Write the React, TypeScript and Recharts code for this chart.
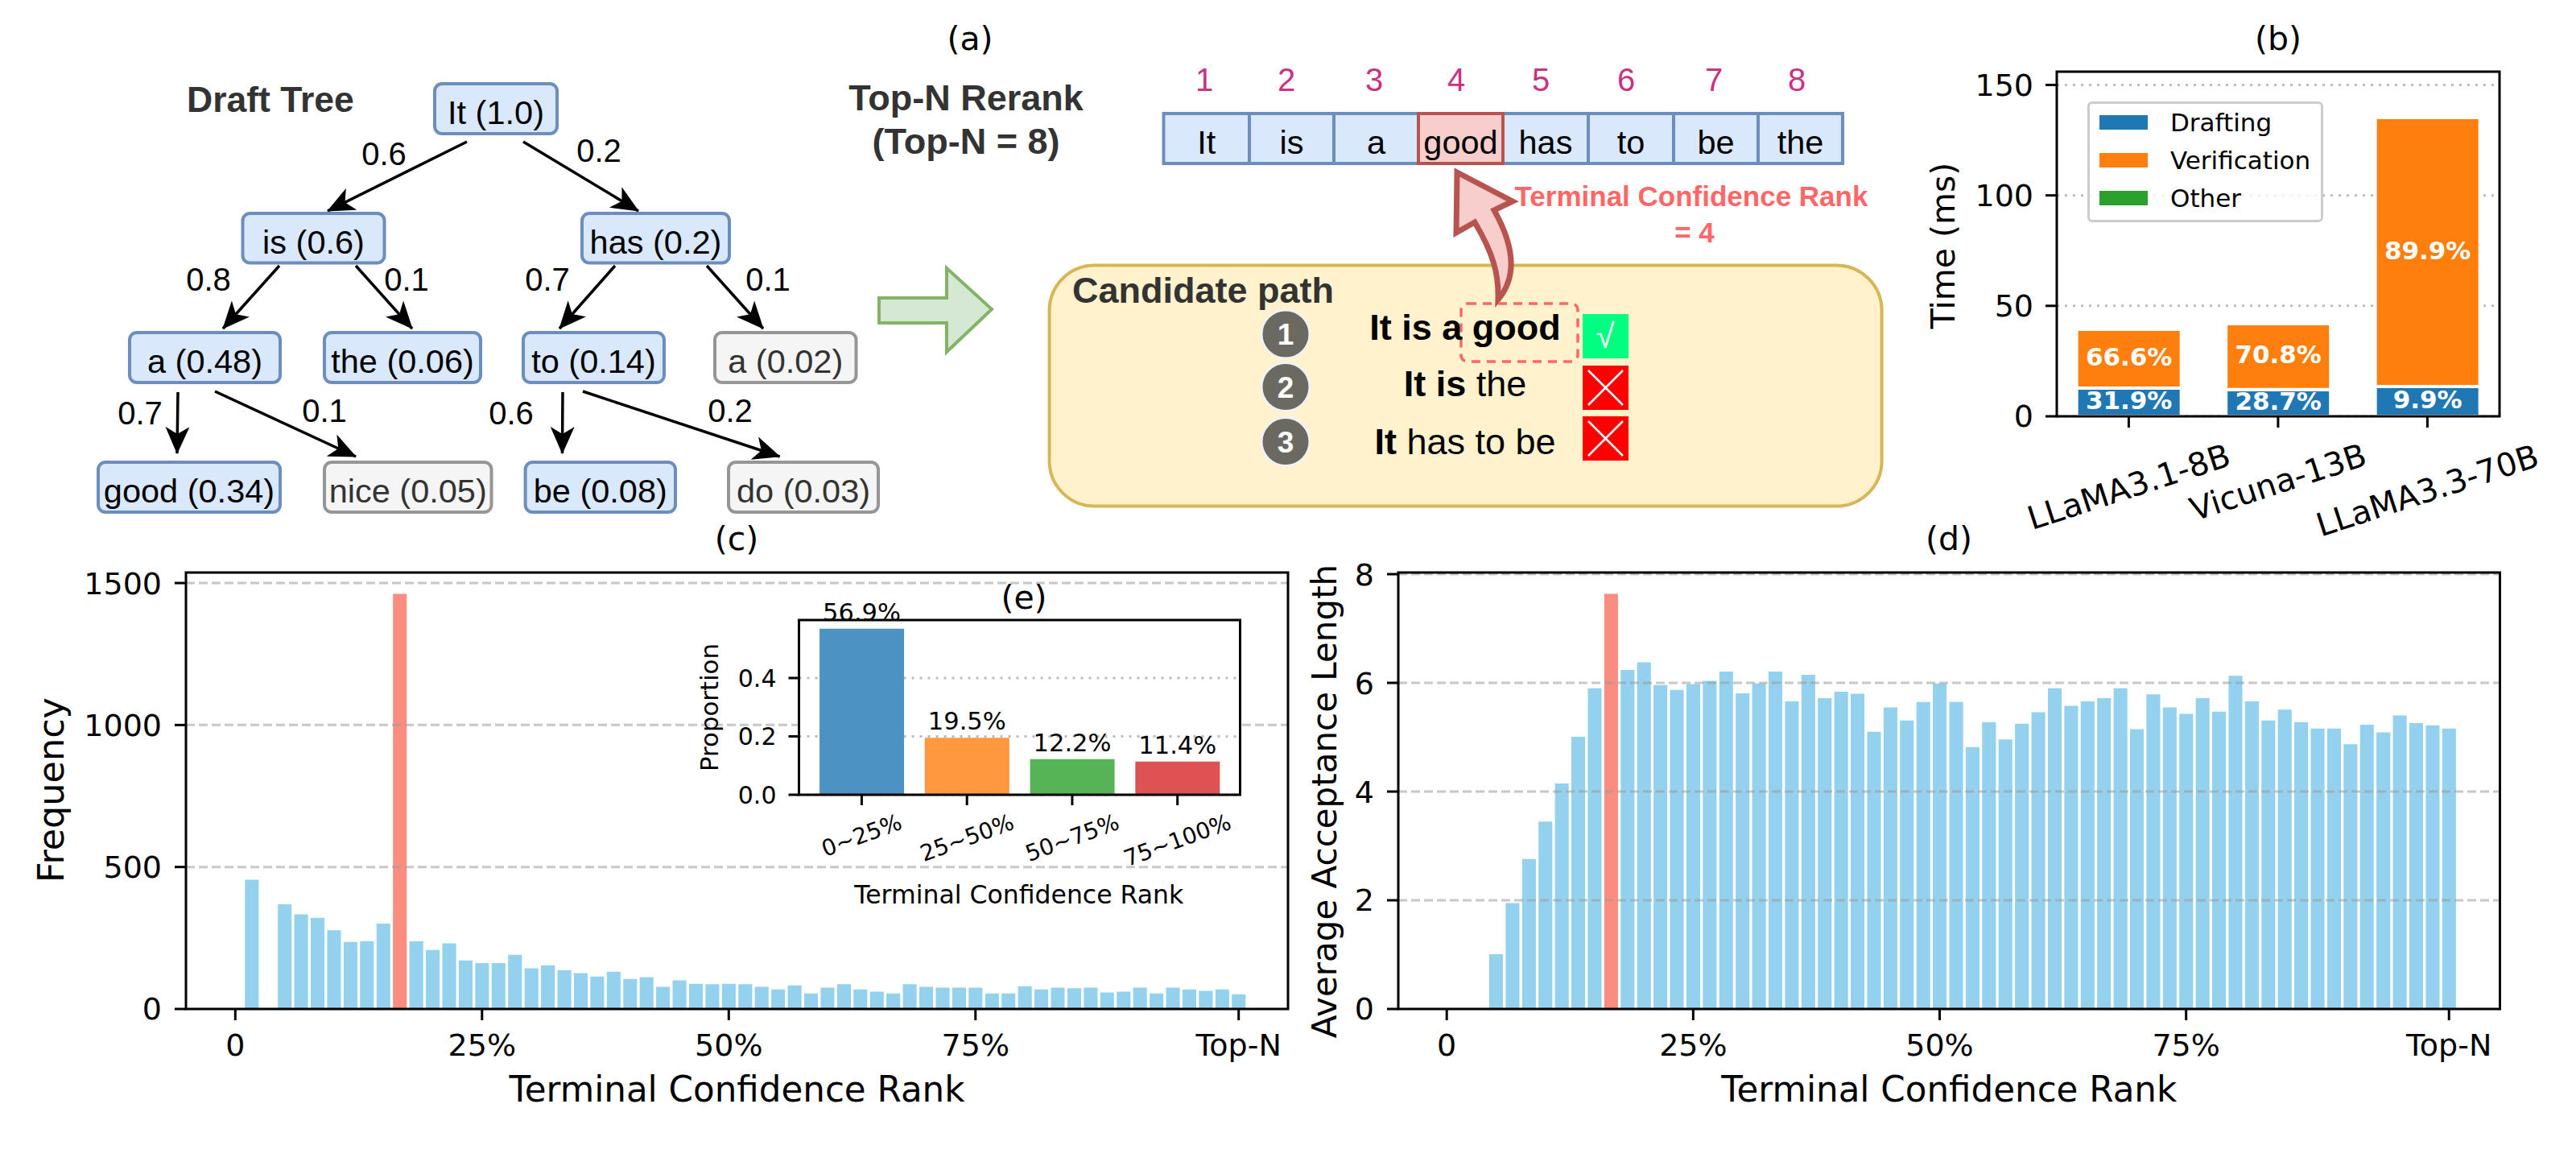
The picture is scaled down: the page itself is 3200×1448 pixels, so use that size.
import React from 'react';
import {
  BarChart, Bar, XAxis, YAxis, CartesianGrid, ReferenceArea, ReferenceLine, Cell, LabelList, Legend,
} from 'recharts';

const MPL = 'DejaVu Sans';
const DIA = '"Liberation Sans", Arial, sans-serif';

// ---------- data ----------
const ranks = [0,1,2,3,4,5,6,7,8,9,10,11,12,13,14,15,16,17,18,19,20,21,22,23,24,25,26,27,28,29,30,31,32,33,34,35,36,37,38,39,40,41,42,43,44,45,46,47,48,49,50,51,52,53,54,55,56,57,58,59,60,61];
const frequency = [null,457,null,371,335,323,279,238,241,303,1464,241,210,233,173,164,164,193,145,156,139,128,116,133,108,114,80,103,91,89,91,89,80,71,85,57,77,89,71,63,57,89,80,77,77,77,57,57,82,71,77,75,77,60,63,77,57,77,71,66,71,54];
const acceptance = [null,null,null,1.02,1.96,2.77,3.46,4.16,5.02,5.91,7.65,6.25,6.39,5.97,5.88,5.99,6.05,6.22,5.82,6.0,6.22,5.67,6.16,5.73,5.85,5.81,5.11,5.56,5.32,5.66,6.0,5.66,4.83,5.29,4.97,5.26,5.47,5.91,5.59,5.67,5.73,5.91,5.16,5.80,5.56,5.44,5.73,5.48,6.14,5.67,5.32,5.52,5.29,5.17,5.17,4.88,5.24,5.10,5.41,5.27,5.23,5.17];
const highlightRank = 10;
const rankTickValues = [0, 15, 30, 45, 61];
const rankTickLabels = ['0', '25%', '50%', '75%', 'Top-N'];
const freqTicks = [0, 500, 1000, 1500];
const acceptTicks = [0, 2, 4, 6, 8];

const models = ['LLaMA3.1-8B', 'Vicuna-13B', 'LLaMA3.3-70B'];
const modelPositions = [0, 1, 2];
const drafting = [12.76, 12.14, 13.5];
const verification = [26.74, 29.76, 121.7];
const other = [0.6, 0.2, 0.27];
const draftingPct = ['31.9%', '28.7%', '9.9%'];
const verificationPct = ['66.6%', '70.8%', '89.9%'];
const timeTicks = [0, 50, 100, 150];
const legendNames = ['Drafting', 'Verification', 'Other'];
const legendColors = ['#1f77b4', '#ff7f0e', '#2ca02c'];

const rankBins = ['0~25%', '25~50%', '50~75%', '75~100%'];
const binPositions = [0, 1, 2, 3];
const binShare = [0.569, 0.195, 0.122, 0.114];
const binShareLabels = ['56.9%', '19.5%', '12.2%', '11.4%'];
const binColors = ['#4c92c3', '#ff983e', '#56b356', '#de5253'];
const shareTicks = [0, 0.2, 0.4];

const treeNodeLabels = ['It (1.0)', 'is (0.6)', 'has (0.2)', 'a (0.48)', 'the (0.06)', 'to (0.14)', 'a (0.02)', 'good (0.34)', 'nice (0.05)', 'be (0.08)', 'do (0.03)'];
const treeEdgeLabels = ['0.6', '0.2', '0.8', '0.1', '0.7', '0.1', '0.7', '0.1', '0.6', '0.2'];
const rerankWords = ['It', 'is', 'a', 'good', 'has', 'to', 'be', 'the'];
const rerankNumbers = ['1', '2', '3', '4', '5', '6', '7', '8'];

// ---------- layout ----------
const treeNodeBoxes: number[][] = [
  [540,692,104,166,0],[301.5,477.5,265,326.5,0],[723,906,265,326.5,0],
  [161,348,413,475,0],[403,597,413,475,0],[650,825,413,475,0],[888,1063.5,413,475,1],
  [122,348,574,636,0],[403,610.5,574,636,1],[652.6,839,574,636,0],[905,1091,574,636,1],
];
const treeEdgeLabelPos: number[][] = [[477,191],[744,187],[259,347],[505,347],[680,347],[954,347],[174,513],[403,510],[635,513],[907,510]];
const treeArrows: number[][] = [
  [580,176,407,262],[650,176,793,262],[347,330,277,408],[442,330,512,408],[764,330,695,408],
  [878,330,948,408],[221,487,220,563],[267,486,442,567],[699,487,698.5,563],[724,486,968.6,567],
];
const rerankEdges = [1445.5,1552,1657,1762,1867,1973,2079,2184,2289];
const rerankNumberX = [1496,1598,1707,1809,1914,2020,2129,2232];

const Z_TOP = 1000;
const AXIS_W = 3;
const tickLine = { stroke: '#000', strokeWidth: AXIS_W };
const barSky = '#93d1ee';
const barSalmon = '#fb8d80';

function makeXTick(deltaY: number, labels: string[], values: number[]) {
  return (p: any) => {
    const i = values.indexOf(p.payload.value);
    return (
      <text x={p.x} y={p.y + deltaY} textAnchor="middle" fontFamily={MPL} fontSize={38} fill="#000">
        {labels[i]}
      </text>
    );
  };
}

function makeRotatedTick(labels: string[], values: number[], size: number, baseY: number, halfHeights: number[], angle: number) {
  return (p: any) => {
    const i = values.indexOf(p.payload.value);
    const cy = baseY + halfHeights[i];
    return (
      <text x={p.x} y={cy} textAnchor="middle" dominantBaseline="central" fontFamily={MPL} fontSize={size} fill="#000"
        transform={`rotate(${-angle} ${p.x} ${cy})`}>
        {labels[i]}
      </text>
    );
  };
}

function axisTitleX(text: string, x: number, y: number, size: number) {
  return () => (
    <text x={x} y={y} textAnchor="middle" fontFamily={MPL} fontSize={size} fill="#000">{text}</text>
  );
}
function axisTitleY(text: string, x: number, y: number, size: number) {
  return () => (
    <text x={x} y={y} textAnchor="middle" dominantBaseline="central" fontFamily={MPL} fontSize={size} fill="#000"
      transform={`rotate(-90 ${x} ${y})`}>{text}</text>
  );
}

function RankChart(props: any) {
  const { left, top, width, height, plotLeft, plotRight, plotTop, plotBottom, domainY, values, yTicks, gridTicks, xDomain } = props;
  const data = ranks.map((r, i) => ({ rank: r, value: values[i] }));
  return (
    <div style={{ position: 'absolute', left, top, width, height }}>
      <BarChart width={width} height={height} data={data} barSize={18.6}
        margin={{ top: plotTop - top, left: 0, right: left + width - plotRight, bottom: 0 }}>
        <XAxis dataKey="rank" type="number" scale="linear" domain={xDomain} ticks={rankTickValues} interval={0}
          height={top + height - plotBottom} axisLine={false} tickLine={tickLine} tickSize={14} tickMargin={0}
          tick={makeXTick(44, rankTickLabels, rankTickValues)}
          label={axisTitleX('Terminal Confidence Rank', (plotLeft + plotRight) / 2 - left, 1368 - top, 43.6)} />
        <YAxis type="number" domain={[0, domainY]} ticks={yTicks} interval={0} width={plotLeft - left} axisLine={false}
          tickLine={tickLine} tickSize={14} tickMargin={props.tickMargin}
          tick={{ fontFamily: MPL, fontSize: 38, fill: '#000' }}
          label={axisTitleY(props.yLabel, props.yLabelX - left, props.yLabelY - top, props.yLabelSize)} />
        <Bar dataKey="value" isAnimationActive={false} stroke="#fff" strokeWidth={1.5}>
          {data.map((d) => (
            <Cell key={d.rank} fill={d.rank === highlightRank ? barSalmon : barSky} />
          ))}
        </Bar>
        {gridTicks.map((t: number) => (
          <ReferenceLine key={t} y={t} stroke="#9a9a9a" strokeOpacity={0.55} strokeWidth={3} strokeDasharray="11 5" ifOverflow="visible" zIndex={Z_TOP} />
        ))}
        <ReferenceArea x1={xDomain[0]} x2={xDomain[1]} y1={0} y2={domainY} fill="none" fillOpacity={0} stroke="#000" strokeWidth={AXIS_W} ifOverflow="visible" zIndex={Z_TOP} />
      </BarChart>
    </div>
  );
}

function segmentLabel(labels: string[]) {
  return (p: any) => (
    <text x={p.x + p.width / 2} y={p.y + p.height / 2 - 2.5} textAnchor="middle" dominantBaseline="central"
      fontFamily={MPL} fontWeight={700} fontSize={31} fill="#fff">
      {labels[p.index]}
    </text>
  );
}

function TimeLegend() {
  return (
    <div style={{
      boxSizing: 'border-box', width: 293, height: 150, border: '3px solid #cccccc', borderRadius: 6,
      background: 'rgba(255,255,255,0.8)', position: 'relative',
    }}>
      {legendNames.map((n, i) => (
        <React.Fragment key={n}>
          <div style={{ position: 'absolute', left: 12, top: 14 + i * 47, width: 60, height: 18, background: legendColors[i] }} />
          <div style={{ position: 'absolute', left: 100, top: 3 + i * 47, fontFamily: MPL, fontSize: 31, lineHeight: '40px', color: '#000', whiteSpace: 'nowrap' }}>{n}</div>
        </React.Fragment>
      ))}
    </div>
  );
}

function TimeChart() {
  const left = 2380, top = 70, width = 800, height = 620, pl = 2555, pr = 3105, pt = 89, pb = 517;
  const xd = [-0.482, 2.483];
  const yMax = 156;
  const data = models.map((m, i) => ({ pos: modelPositions[i], draft: drafting[i], verif: verification[i], other: other[i] }));
  return (
    <div style={{ position: 'absolute', left, top, width, height }}>
      <BarChart width={width} height={height} data={data} barSize={130}
        margin={{ top: pt - top, left: 0, right: left + width - pr, bottom: 0 }}>
        <CartesianGrid horizontal vertical={false} syncWithTicks stroke="#bdbdbd" strokeWidth={3} strokeDasharray="3 7" />
        <XAxis dataKey="pos" type="number" scale="linear" domain={xd} ticks={modelPositions} interval={0}
          height={top + height - pb} axisLine={false} tickLine={tickLine} tickSize={14} tickMargin={0}
          tick={makeRotatedTick(models, modelPositions, 40, 548 - top, [56.5, 50.7, 61], 18)} />
        <YAxis type="number" domain={[0, yMax]} ticks={timeTicks} interval={0} width={pl - left} axisLine={false}
          tickLine={tickLine} tickSize={14} tickMargin={15} tick={{ fontFamily: MPL, fontSize: 38, fill: '#000' }}
          label={axisTitleY('Time (ms)', 2414 - left, 305 - top, 41)} />
        <Bar dataKey="draft" name={legendNames[0]} stackId="t" fill={legendColors[0]} stroke="#fff" strokeWidth={4} isAnimationActive={false}>
          <LabelList content={segmentLabel(draftingPct)} />
        </Bar>
        <Bar dataKey="verif" name={legendNames[1]} stackId="t" fill={legendColors[1]} stroke="#fff" strokeWidth={4} isAnimationActive={false}>
          <LabelList content={segmentLabel(verificationPct)} />
        </Bar>
        <Bar dataKey="other" name={legendNames[2]} stackId="t" fill={legendColors[2]} stroke="#fff" strokeWidth={4} isAnimationActive={false} />
        <Legend layout="vertical" align="center" verticalAlign="middle" content={<TimeLegend />}
          wrapperStyle={{ left: 2593 - left, top: 126 - top, width: 293, height: 150 }} />
        <ReferenceArea x1={xd[0]} x2={xd[1]} y1={0} y2={yMax} fill="none" fillOpacity={0} stroke="#000" strokeWidth={AXIS_W} ifOverflow="visible" zIndex={Z_TOP} />
      </BarChart>
    </div>
  );
}

function ShareChart() {
  const left = 860, top = 740, width = 720, height = 400, pl = 992.5, pr = 1540.5, pt = 770, pb = 987;
  const xd = [-0.596, 3.595];
  const yMax = 0.5986;
  const data = rankBins.map((b, i) => ({ pos: binPositions[i], share: binShare[i] }));
  const shareLabel = (p: any) => (
    <text x={p.x + p.width / 2} y={p.y - 10} textAnchor="middle" fontFamily={MPL} fontSize={30.5} fill="#000">
      {binShareLabels[p.index]}
    </text>
  );
  return (
    <div style={{ position: 'absolute', left, top, width, height }}>
      <BarChart width={width} height={height} data={data} barSize={105}
        margin={{ top: pt - top, left: 0, right: left + width - pr, bottom: 0 }}>
        <CartesianGrid horizontal vertical={false} syncWithTicks fill="#fff" fillOpacity={1} stroke="#bdbdbd" strokeWidth={3} strokeDasharray="3 7" />
        <XAxis dataKey="pos" type="number" scale="linear" domain={xd} ticks={binPositions} interval={0}
          height={top + height - pb} axisLine={false} tickLine={tickLine} tickSize={13} tickMargin={0}
          tick={makeRotatedTick(rankBins, binPositions, 28, 1037.5 - top, [0, 3, 3, 6], 20)}
          label={axisTitleX('Terminal Confidence Rank', 1265.8 - left, 1122 - top, 31.5)} />
        <YAxis type="number" domain={[0, yMax]} ticks={shareTicks} interval={0} width={pl - left} axisLine={false}
          tickLine={tickLine} tickSize={13} tickMargin={15} tickFormatter={(v: number) => v.toFixed(1)}
          tick={{ fontFamily: MPL, fontSize: 30, fill: '#000' }}
          label={axisTitleY('Proportion', 881 - left, 878.5 - top, 30.8)} />
        <Bar dataKey="share" isAnimationActive={false}>
          {data.map((d, i) => (<Cell key={d.pos} fill={binColors[i]} />))}
          <LabelList content={shareLabel} />
        </Bar>
        <ReferenceArea x1={xd[0]} x2={xd[1]} y1={0} y2={yMax} fill="none" fillOpacity={0} stroke="#000" strokeWidth={AXIS_W} ifOverflow="visible" zIndex={Z_TOP} />
      </BarChart>
    </div>
  );
}

function Diagram() {
  const blue = { fill: '#dae8fc', stroke: '#6c8ebf' };
  const gray = { fill: '#f5f5f5', stroke: '#969696' };
  return (
    <svg width={3200} height={1448} style={{ position: 'absolute', left: 0, top: 0, pointerEvents: 'none' }}>
      <defs>
        <marker id="stealth" viewBox="0 0 34 30" markerUnits="userSpaceOnUse" markerWidth={34} markerHeight={30} refX={33} refY={15} orient="auto">
          <path d="M0 0 L34 15 L0 30 L9 15 Z" fill="#000" />
        </marker>
      </defs>

      {/* panel titles */}
      {[['(a)', 1205, 62], ['(b)', 2830, 62], ['(c)', 915, 683], ['(d)', 2421, 683], ['(e)', 1272, 756]].map(([t, x, y]) => (
        <text key={t as string} x={x as number} y={y as number} textAnchor="middle" fontFamily={MPL} fontSize={41} fill="#000">{t}</text>
      ))}

      {/* draft tree */}
      <text x={232} y={139} fontFamily={DIA} fontWeight={700} fontSize={44.5} fill="#333">Draft Tree</text>
      {treeArrows.map((a, i) => (
        <line key={i} x1={a[0]} y1={a[1]} x2={a[2]} y2={a[3]} stroke="#000" strokeWidth={3.5} markerEnd="url(#stealth)" />
      ))}
      {treeNodeLabels.map((label, i) => {
        const b = treeNodeBoxes[i];
        const c = b[4] ? gray : blue;
        return (
          <g key={i}>
            <rect x={b[0]} y={b[2]} width={b[1] - b[0]} height={b[3] - b[2]} rx={9} fill={c.fill} stroke={c.stroke} strokeWidth={4} />
            <text x={(b[0] + b[1]) / 2} y={(b[2] + b[3]) / 2 + 19} textAnchor="middle" fontFamily={DIA} fontSize={41.5} fill={b[4] ? '#333' : '#000'}>{label}</text>
          </g>
        );
      })}
      {treeEdgeLabels.map((t, i) => (
        <text key={i} x={treeEdgeLabelPos[i][0]} y={treeEdgeLabelPos[i][1] + 14} textAnchor="middle" fontFamily={DIA} fontSize={40} fill="#000">{t}</text>
      ))}

      {/* green arrow */}
      <path d="M1092 370 L1176 370 L1176 333 L1232 384 L1176 437 L1176 401 L1092 401 Z" fill="#d5e8d4" stroke="#82b366" strokeWidth={4} />

      {/* rerank */}
      <text x={1200} y={137} textAnchor="middle" fontFamily={DIA} fontWeight={700} fontSize={45} fill="#333">Top-N Rerank</text>
      <text x={1200} y={191} textAnchor="middle" fontFamily={DIA} fontWeight={700} fontSize={45} fill="#333">(Top-N = 8)</text>
      {rerankWords.map((w, i) => (
        <rect key={w} x={rerankEdges[i]} y={141} width={rerankEdges[i + 1] - rerankEdges[i]} height={62}
          fill="#dae8fc" stroke="#6c8ebf" strokeWidth={4} />
      ))}
      <rect x={rerankEdges[3]} y={141} width={rerankEdges[4] - rerankEdges[3]} height={62} fill="#f8cecc" stroke="#b85450" strokeWidth={4} />
      {rerankWords.map((w, i) => (
        <text key={w} x={(rerankEdges[i] + rerankEdges[i + 1]) / 2} y={191} textAnchor="middle" fontFamily={DIA} fontSize={41.5} fill="#000">{w}</text>
      ))}
      {rerankNumbers.map((n, i) => (
        <text key={n} x={rerankNumberX[i]} y={113} textAnchor="middle" fontFamily={DIA} fontSize={40} fill="#cc3080">{n}</text>
      ))}

      {/* candidate box */}
      <rect x={1303.6} y={329.6} width={1034} height={299} rx={56} fill="#fff2cc" stroke="#d6b656" strokeWidth={4} />
      <text x={1332} y={376} fontFamily={DIA} fontWeight={700} fontSize={45} fill="#333">Candidate path</text>
      <path d="M1810 214 L1879 250 L1856 261 C1878 300 1888 340 1861 372 C1862 340 1855 315 1832 276 L1809 289 Z" fill="#f8cecc" stroke="#b85450" strokeWidth={7} strokeLinejoin="miter" />
      <rect x={1815} y={377} width={145} height={72} rx={8} fill="none" stroke="#ff6666" strokeWidth={3.5} strokeDasharray="11 8" />
      <text x={2101} y={256} textAnchor="middle" fontFamily={DIA} fontWeight={700} fontSize={35} fill="#ff6666">Terminal Confidence Rank</text>
      <text x={2105} y={301} textAnchor="middle" fontFamily={DIA} fontWeight={700} fontSize={35} fill="#ff6666">= 4</text>

      {[415, 480.5, 548.6].map((cy, i) => (
        <g key={cy}>
          <circle cx={1597} cy={cy} r={30} fill="#6b6a62" stroke="#f2f2f2" strokeWidth={3} />
          <text x={1597} y={cy + 13} textAnchor="middle" fontFamily={DIA} fontWeight={700} fontSize={37} fill="#fff">{i + 1}</text>
        </g>
      ))}
      <text x={1820} y={421.5} textAnchor="middle" fontFamily={DIA} fontWeight={700} fontSize={45} fill="#000">It is a good</text>
      <text x={1820} y={492} textAnchor="middle" fontFamily={DIA} fontSize={45} fill="#000"><tspan fontWeight={700}>It is</tspan> the</text>
      <text x={1820} y={564} textAnchor="middle" fontFamily={DIA} fontSize={45} fill="#000"><tspan fontWeight={700}>It</tspan> has to be</text>

      <rect x={1966} y={390} width={57} height={55} fill="#00ff80" />
      <text x={1994} y={432} textAnchor="middle" fontFamily={DIA} fontSize={42} fill="#fff">√</text>
      {[454, 517].map((y) => (
        <g key={y}>
          <rect x={1966} y={y} width={57} height={55} fill="#ff0000" />
          <path d={`M1973 ${y + 6} L2016 ${y + 49} M2016 ${y + 6} L1973 ${y + 49}`} stroke="#fff" strokeWidth={2.5} />
        </g>
      ))}
    </svg>
  );
}

export default function App() {
  return (
    <div style={{ position: 'absolute', left: 0, top: 0, width: 3200, height: 1448, background: '#fff', overflow: 'hidden' }}>
      <RankChart left={0} top={690} width={1620} height={700} plotLeft={231} plotRight={1600} plotTop={711} plotBottom={1253}
        domainY={1537} values={frequency} yTicks={freqTicks} gridTicks={[500, 1000, 1500]} xDomain={[-3, 64]}
        yLabel="Frequency" yLabelX={63} yLabelY={981} yLabelSize={44.5} tickMargin={16} />
      <RankChart left={1620} top={690} width={1570} height={700} plotLeft={1737} plotRight={3105.5} plotTop={711} plotBottom={1253}
        domainY={8.03} values={acceptance} yTicks={acceptTicks} gridTicks={[2, 4, 6, 8]} xDomain={[-2.95, 64.1]}
        yLabel="Average Acceptance Length" yLabelX={1645} yLabelY={995} yLabelSize={42} tickMargin={16} />
      <ShareChart />
      <TimeChart />
      <Diagram />
    </div>
  );
}
